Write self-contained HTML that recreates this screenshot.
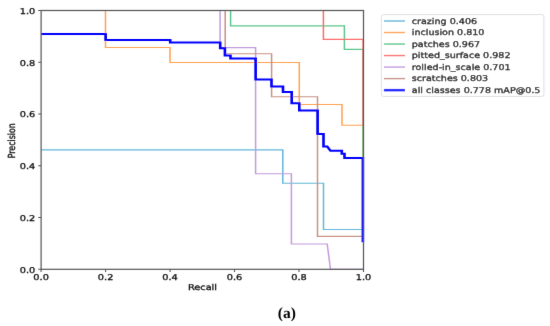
<!DOCTYPE html>
<html><head><meta charset="utf-8"><style>
html,body{margin:0;padding:0;background:#fff;}
body{width:550px;height:326px;overflow:hidden;position:relative;}
svg{position:absolute;left:0;top:0;}
svg text{text-rendering:geometricPrecision;font-family:"DejaVu Sans","Liberation Sans",sans-serif;font-size:8.0px;fill:#111;stroke:#111;stroke-width:0.3px;}
</style></head><body>
<svg width="550" height="326" viewBox="0 0 550 326">
<defs><filter id="bl" x="0" y="0" width="550" height="326" filterUnits="userSpaceOnUse"><feConvolveMatrix order="3" kernelMatrix="0.0052 0.0619 0.0052 0.0619 0.7314 0.0619 0.0052 0.0619 0.0052" divisor="1" edgeMode="none"/></filter></defs>
<g filter="url(#bl)">
<g transform="scale(1.3,1)" fill="none">
<path d="M31.62,149.9 L217.54,149.9 L217.54,183.2 L248.85,183.2 L248.85,229.5 L279.31,229.5 L279.31,241.0" stroke="#62b6da" stroke-width="1.15"/>
<path d="M81.15,10.5 L81.15,47.5 L130.77,47.5 L130.77,62.5 L230.23,62.5 L230.23,104.5 L263.08,104.5 L263.08,125.2 L279.31,125.2 L279.31,240.0" stroke="#ffa14f" stroke-width="1.15"/>
<path d="M177.38,10.5 L177.38,25.8 L264.92,25.8 L264.92,49.4 L279.31,49.4 L279.31,160.0" stroke="#5cc58a" stroke-width="1.15"/>
<path d="M248.77,10.5 L248.77,39.3 L279.31,39.3 L279.31,126.0" stroke="#ff6b6b" stroke-width="1.15"/>
<path d="M169.31,10.5 L169.31,47.6 L196.62,47.6 L196.62,173.7 L224.15,173.7 L224.15,244.0 L251.69,244.0 L254.23,269.2 L279.62,269.2" stroke="#c39bdc" stroke-width="1.15"/>
<path d="M173.23,10.5 L173.23,53.7 L208.92,53.7 L208.92,96.7 L244.23,96.7 L244.23,236.4 L279.31,236.4 L279.31,241.0" stroke="#c79283" stroke-width="1.15"/>
<path d="M31.62,34.1 L81.23,34.1 L81.23,40.0 L130.92,40.0 L130.92,42.5 L169.38,42.5 L169.38,48.3 L173.00,48.3 L173.00,55.4 L177.31,55.4 L177.31,58.4 L196.62,58.4 L196.62,79.4 L208.85,79.4 L208.85,86.6 L217.69,86.6 L217.69,92.0 L224.38,92.0 L224.38,103.3 L230.23,103.3 L230.23,110.6 L244.31,110.6 L244.31,133.9 L248.85,133.9 L248.85,146.6 L251.69,146.6 L254.23,150.8 L262.92,150.8 L262.92,153.7 L265.00,153.7 L265.00,158.0 L279.15,158.0 L279.15,242.3" stroke="#0000ff" stroke-width="2.0"/>
</g>
<rect x="41.1" y="10.5" width="322.4" height="258.8" fill="none" stroke="#555" stroke-width="1.2"/>
<path d="M41.1,269.3 V271.9 M41.1,269.3 H38.2 M105.6,269.3 V271.9 M41.1,217.5 H38.2 M170.1,269.3 V271.9 M41.1,165.8 H38.2 M234.5,269.3 V271.9 M41.1,114.0 H38.2 M299.0,269.3 V271.9 M41.1,62.3 H38.2 M363.5,269.3 V271.9 M41.1,10.5 H38.2" stroke="#555" stroke-width="1.1" fill="none"/>
<text transform="translate(41.10,279.90) scale(1.219,1)" text-anchor="middle" >0.0</text>
<text transform="translate(35.30,272.75) scale(1.219,1)" text-anchor="end" >0.0</text>
<text transform="translate(105.58,279.90) scale(1.219,1)" text-anchor="middle" >0.2</text>
<text transform="translate(35.30,220.99) scale(1.219,1)" text-anchor="end" >0.2</text>
<text transform="translate(170.06,279.90) scale(1.219,1)" text-anchor="middle" >0.4</text>
<text transform="translate(35.30,169.23) scale(1.219,1)" text-anchor="end" >0.4</text>
<text transform="translate(234.54,279.90) scale(1.219,1)" text-anchor="middle" >0.6</text>
<text transform="translate(35.30,117.47) scale(1.219,1)" text-anchor="end" >0.6</text>
<text transform="translate(299.02,279.90) scale(1.219,1)" text-anchor="middle" >0.8</text>
<text transform="translate(35.30,65.71) scale(1.219,1)" text-anchor="end" >0.8</text>
<text transform="translate(363.50,279.90) scale(1.219,1)" text-anchor="middle" >1.0</text>
<text transform="translate(35.30,13.95) scale(1.219,1)" text-anchor="end" >1.0</text>
<text transform="translate(202.50,290.35) scale(1.219,1)" text-anchor="middle" >Recall</text>
<text transform="translate(15.1,140.8) rotate(-90) scale(0.98,1.219)" text-anchor="middle">Precision</text>
<text x="277.8" y="318.4" style="font-family:'Liberation Serif',serif;font-weight:bold;font-size:15.5px;fill:#000;stroke:none">(a)</text>
<rect x="381.4" y="14.6" width="162.5" height="81.8" rx="2" fill="#fff" stroke="#d6d6d6" stroke-width="0.8"/>
<path d="M383.9,21.00 H405.0" stroke="#62b6da" stroke-width="1.4"/>
<text transform="translate(411.80,23.70) scale(1.195,1)" text-anchor="start" >crazing 0.406</text>
<path d="M383.9,32.52 H405.0" stroke="#ffa14f" stroke-width="1.4"/>
<text transform="translate(411.80,35.22) scale(1.195,1)" text-anchor="start" >inclusion 0.810</text>
<path d="M383.9,44.04 H405.0" stroke="#5cc58a" stroke-width="1.4"/>
<text transform="translate(411.80,46.74) scale(1.195,1)" text-anchor="start" >patches 0.967</text>
<path d="M383.9,55.56 H405.0" stroke="#ff6b6b" stroke-width="1.4"/>
<text transform="translate(411.80,58.26) scale(1.195,1)" text-anchor="start" >pitted_surface 0.982</text>
<path d="M383.9,67.08 H405.0" stroke="#c39bdc" stroke-width="1.4"/>
<text transform="translate(411.80,69.78) scale(1.195,1)" text-anchor="start" >rolled-in_scale 0.701</text>
<path d="M383.9,78.60 H405.0" stroke="#c79283" stroke-width="1.4"/>
<text transform="translate(411.80,81.30) scale(1.195,1)" text-anchor="start" >scratches 0.803</text>
<path d="M383.9,90.12 H405.0" stroke="#0000ff" stroke-width="2.4"/>
<text transform="translate(411.80,92.82) scale(1.195,1)" text-anchor="start" >all classes 0.778 mAP@0.5</text>
</g>
</svg>
</body></html>
